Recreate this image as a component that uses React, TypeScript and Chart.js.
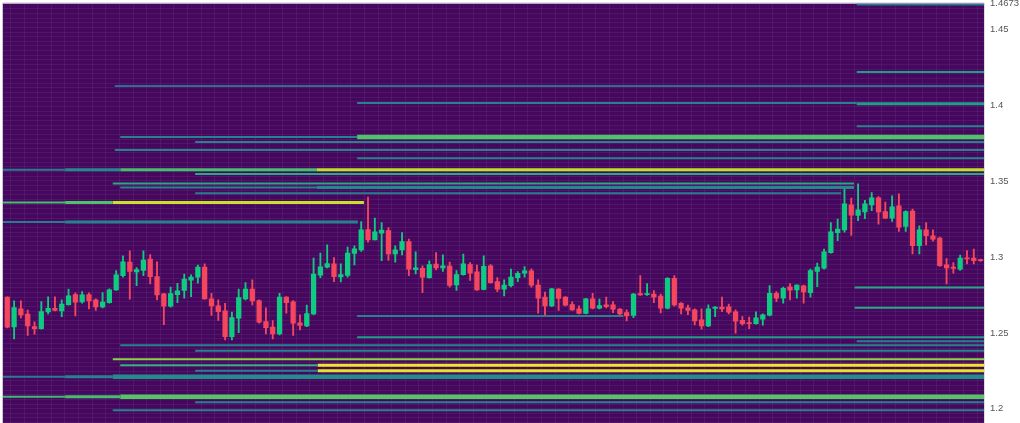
import { useEffect, useRef } from "react";
import { Chart, registerables } from "chart.js";

Chart.register(...registerables);

// ---- candle data (one entry per bar) ----
const opens = [
  1.2736, 1.2540, 1.2659, 1.2624, 1.2542, 1.2529, 1.2639, 1.2663, 1.2646, 1.2687,
  1.2753, 1.2705, 1.2753, 1.2718, 1.2672, 1.2700, 1.2784, 1.2877, 1.2967, 1.2903,
  1.2912, 1.2987, 1.2872, 1.2758, 1.2677, 1.2753, 1.2780, 1.2848, 1.2868, 1.2934,
  1.2725, 1.2679, 1.2646, 1.2476, 1.2597, 1.2725, 1.2789, 1.2714, 1.2575, 1.2538,
  1.2494, 1.2736, 1.2705, 1.2566, 1.2547, 1.2626, 1.2881, 1.2934, 1.2956, 1.2870,
  1.2879, 1.3024, 1.3048, 1.3182, 1.3114, 1.3158, 1.3176, 1.3022, 1.3048, 1.3103,
  1.2918, 1.2927, 1.2865, 1.2954, 1.2929, 1.2941, 1.2817, 1.2885, 1.2951, 1.2903,
  1.2787, 1.2943, 1.2839, 1.2789, 1.2811, 1.2865, 1.2894, 1.2910, 1.2815, 1.2736,
  1.2679, 1.2789, 1.2736, 1.2687, 1.2659, 1.2628, 1.2725, 1.2663, 1.2685, 1.2685,
  1.2657, 1.2634, 1.2615, 1.2760, 1.2753, 1.2756, 1.2743, 1.2663, 1.2861, 1.2696,
  1.2665, 1.2652, 1.2586, 1.2547, 1.2661, 1.2670, 1.2672, 1.2639, 1.2584, 1.2568,
  1.2562, 1.2591, 1.2617, 1.2762, 1.2729, 1.2804, 1.2784, 1.2811, 1.2766, 1.2905,
  1.2927, 1.3030, 1.3162, 1.3180, 1.3345, 1.3275, 1.3299, 1.3345, 1.3391, 1.3301,
  1.3257, 1.3339, 1.3202, 1.3304, 1.3075, 1.3180, 1.3141, 1.3125, 1.2949, 1.2934,
  1.2921, 1.2995, 1.2993, 1.2984,
];
const highs = [
  1.2738, 1.2712, 1.2712, 1.2650, 1.2573, 1.2707, 1.2738, 1.2738, 1.2718, 1.2789,
  1.2764, 1.2773, 1.2764, 1.2725, 1.2766, 1.2791, 1.2912, 1.3009, 1.3042, 1.2931,
  1.3042, 1.3017, 1.2969, 1.2762, 1.2802, 1.2828, 1.2888, 1.2883, 1.2947, 1.2956,
  1.2762, 1.2718, 1.2696, 1.2637, 1.2789, 1.2832, 1.2850, 1.2718, 1.2665, 1.2582,
  1.2762, 1.2740, 1.2714, 1.2619, 1.2683, 1.2993, 1.3026, 1.3081, 1.2997, 1.2956,
  1.3066, 1.3075, 1.3235, 1.3396, 1.3257, 1.3228, 1.3195, 1.3075, 1.3162, 1.3119,
  1.3035, 1.2943, 1.2976, 1.3030, 1.3015, 1.2967, 1.2912, 1.3020, 1.2964, 1.2947,
  1.3009, 1.2951, 1.2865, 1.2850, 1.2921, 1.2905, 1.2938, 1.2923, 1.2850, 1.2769,
  1.2795, 1.2793, 1.2740, 1.2705, 1.2679, 1.2729, 1.2762, 1.2723, 1.2736, 1.2707,
  1.2661, 1.2652, 1.2762, 1.2879, 1.2826, 1.2780, 1.2756, 1.2865, 1.2879, 1.2700,
  1.2683, 1.2659, 1.2659, 1.2685, 1.2674, 1.2736, 1.2690, 1.2652, 1.2608, 1.2604,
  1.2639, 1.2626, 1.2813, 1.2773, 1.2802, 1.2826, 1.2817, 1.2815, 1.2921, 1.2960,
  1.3053, 1.3228, 1.3251, 1.3449, 1.3389, 1.3484, 1.3374, 1.3426, 1.3400, 1.3363,
  1.3405, 1.3418, 1.3306, 1.3317, 1.3207, 1.3228, 1.3180, 1.3132, 1.2991, 1.2964,
  1.3013, 1.3044, 1.3053, 1.2987,
];
const lows = [
  1.2533, 1.2461, 1.2599, 1.2483, 1.2492, 1.2525, 1.2626, 1.2646, 1.2608, 1.2683,
  1.2613, 1.2696, 1.2659, 1.2648, 1.2665, 1.2696, 1.2780, 1.2868, 1.2723, 1.2811,
  1.2877, 1.2824, 1.2718, 1.2555, 1.2670, 1.2700, 1.2729, 1.2740, 1.2828, 1.2723,
  1.2615, 1.2582, 1.2454, 1.2454, 1.2502, 1.2718, 1.2685, 1.2564, 1.2494, 1.2461,
  1.2487, 1.2630, 1.2483, 1.2520, 1.2542, 1.2621, 1.2865, 1.2929, 1.2839, 1.2837,
  1.2868, 1.2949, 1.3037, 1.3099, 1.3114, 1.2976, 1.2978, 1.2967, 1.3015, 1.2877,
  1.2890, 1.2766, 1.2861, 1.2916, 1.2905, 1.2802, 1.2780, 1.2881, 1.2846, 1.2780,
  1.2784, 1.2828, 1.2773, 1.2745, 1.2804, 1.2839, 1.2868, 1.2802, 1.2630, 1.2619,
  1.2674, 1.2648, 1.2679, 1.2648, 1.2626, 1.2626, 1.2659, 1.2659, 1.2665, 1.2634,
  1.2619, 1.2580, 1.2601, 1.2747, 1.2747, 1.2700, 1.2632, 1.2659, 1.2677, 1.2626,
  1.2621, 1.2553, 1.2525, 1.2542, 1.2608, 1.2641, 1.2626, 1.2498, 1.2551, 1.2529,
  1.2558, 1.2551, 1.2613, 1.2707, 1.2696, 1.2718, 1.2729, 1.2696, 1.2736, 1.2806,
  1.2921, 1.3026, 1.3108, 1.3165, 1.3143, 1.3240, 1.3253, 1.3306, 1.3218, 1.3253,
  1.3235, 1.3169, 1.3169, 1.3022, 1.3022, 1.3081, 1.3106, 1.2938, 1.2824, 1.2894,
  1.2912, 1.2956, 1.2956, 1.2971,
];
const closes = [
  1.2538, 1.2667, 1.2619, 1.2547, 1.2529, 1.2641, 1.2663, 1.2648, 1.2690, 1.2745,
  1.2703, 1.2751, 1.2712, 1.2672, 1.2703, 1.2784, 1.2883, 1.2969, 1.2905, 1.2918,
  1.2980, 1.2872, 1.2751, 1.2677, 1.2760, 1.2778, 1.2855, 1.2868, 1.2934, 1.2725,
  1.2679, 1.2641, 1.2476, 1.2601, 1.2733, 1.2789, 1.2712, 1.2571, 1.2535, 1.2494,
  1.2736, 1.2700, 1.2564, 1.2549, 1.2628, 1.2888, 1.2936, 1.2958, 1.2872, 1.2885,
  1.3026, 1.3055, 1.3180, 1.3114, 1.3167, 1.3178, 1.3022, 1.3048, 1.3103, 1.2921,
  1.2929, 1.2868, 1.2951, 1.2929, 1.2943, 1.2813, 1.2885, 1.2956, 1.2894, 1.2784,
  1.2939, 1.2832, 1.2789, 1.2815, 1.2868, 1.2894, 1.2910, 1.2815, 1.2729, 1.2679,
  1.2791, 1.2727, 1.2683, 1.2652, 1.2628, 1.2725, 1.2663, 1.2681, 1.2674, 1.2657,
  1.2626, 1.2613, 1.2756, 1.2751, 1.2760, 1.2736, 1.2663, 1.2861, 1.2685, 1.2663,
  1.2648, 1.2580, 1.2547, 1.2659, 1.2670, 1.2659, 1.2637, 1.2578, 1.2562, 1.2562,
  1.2599, 1.2619, 1.2762, 1.2729, 1.2795, 1.2782, 1.2815, 1.2771, 1.2912, 1.2934,
  1.3035, 1.3167, 1.3185, 1.3352, 1.3277, 1.3312, 1.3352, 1.3391, 1.3299, 1.3257,
  1.3332, 1.3198, 1.3301, 1.3075, 1.3180, 1.3141, 1.3119, 1.2943, 1.2929, 1.2925,
  1.2993, 1.2989, 1.2976, 1.2976,
];

// ---- order-book liquidity levels (price, start bar, end bar, heat 0..1, depth class) ----
const levelPrice = [
  1.4666, 1.4221, 1.4129, 1.4016, 1.4012, 1.3864, 1.3792, 1.3792, 1.3759, 1.3706,
  1.3653, 1.3577, 1.3577, 1.3577, 1.3577, 1.3548, 1.3485, 1.3459, 1.3459, 1.3422,
  1.3360, 1.3360, 1.3360, 1.3231, 1.3231,
  1.2799, 1.2667, 1.2611, 1.2472, 1.2446, 1.2419, 1.2383, 1.2327, 1.2287, 1.2287,
  1.2251, 1.2251,
  1.2211, 1.2211, 1.2211, 1.2079, 1.2079, 1.2079, 1.2043, 1.1990,
];
const levelStart = [
  124.8, 124.8, 15.8, 51.4, 124.8, 124.8, 16.6, 51.4, 27.6, 15.8,
  51.4, -0.63, 8.5, 16.6, 45.5, 27.6, 15.5, 16.6, 45.5, 27.6,
  -0.63, 8.5, 15.5, -0.63, 8.5,
  124.5, 124.5, 51.4, 51.4, 124.8, 16.6, 27.6, 15.5, 16.6, 45.6,
  27.6, 45.6,
  -0.63, 8.5, 15.5, -0.63, 8.5, 16.6, 27.6, 15.5,
];
const levelEnd = [
  143.5, 143.5, 143.5, 124.8, 143.5, 143.5, 51.4, 143.5, 143.5, 143.5,
  143.5, 8.5, 16.6, 45.5, 143.5, 143.5, 124.4, 45.5, 124.4, 122.5,
  8.5, 15.5, 52.4, 8.5, 51.5,
  143.5, 143.5, 90.5, 143.5, 143.5, 143.5, 143.5, 143.5, 45.6, 143.5,
  45.6, 143.5,
  8.5, 15.5, 143.5, 8.5, 16.6, 143.5, 143.5, 143.5,
];
const levelHeat = [
  0.42, 0.55, 0.36, 0.45, 0.55, 0.45, 0.45, 0.72, 0.45, 0.45,
  0.45, 0.42, 0.47, 0.7, 0.9, 0.6, 0.6, 0.45, 0.47, 0.42,
  0.7, 0.72, 0.92, 0.42, 0.45,
  0.6, 0.6, 0.45, 0.55, 0.45, 0.45, 0.45, 0.82, 0.65, 0.98,
  0.45, 0.96,
  0.42, 0.45, 0.48, 0.68, 0.7, 0.73, 0.45, 0.45,
];
const levelDepth = [
  1, 1, 1, 1, 2, 1, 1, 3, 1, 1,
  1, 1, 2, 2, 2, 1, 1, 1, 2, 1,
  1, 2, 2, 1, 2,
  1, 1, 1, 1, 1, 1, 1, 1, 1, 2,
  1, 2,
  1, 2, 3, 1, 2, 3, 1, 1,
];

const yTicks = [1.2, 1.25, 1.3, 1.35, 1.4, 1.45, 1.4673];
const Y_MIN = 1.1906;
const Y_MAX = 1.4673;
const X_MIN = -0.63;
const X_MAX = 143.5;

const UP = "#0ecb81";
const DOWN = "#f6465d";

const VIRIDIS = [
  "#440154", "#482878", "#3e4a89", "#31688e", "#26828e",
  "#1f9e89", "#35b779", "#6ece58", "#b5de2b", "#fde725",
];
function hexToRgb(h: string) {
  return [parseInt(h.slice(1, 3), 16), parseInt(h.slice(3, 5), 16), parseInt(h.slice(5, 7), 16)];
}
function viridis(t: number) {
  const c = Math.max(0, Math.min(1, t)) * (VIRIDIS.length - 1);
  const i = Math.min(VIRIDIS.length - 2, Math.floor(c));
  const f = c - i;
  const a = hexToRgb(VIRIDIS[i]);
  const b = hexToRgb(VIRIDIS[i + 1]);
  const m = a.map((v, k) => Math.round(v + (b[k] - v) * f));
  return `rgb(${m[0]},${m[1]},${m[2]})`;
}
const depthWidth = (d: number) => (d === 1 ? 2 : d === 2 ? 3 : 4.5);

const backgroundPlugin = {
  id: "heatBackground",
  beforeDatasetsDraw(chart: any) {
    const { ctx, chartArea: a, scales } = chart;
    ctx.save();
    ctx.fillStyle = "#46085f";
    ctx.fillRect(a.left, a.top, a.right - a.left, a.bottom - a.top);
    ctx.strokeStyle = "rgba(255,255,255,0.055)";
    ctx.lineWidth = 1;
    ctx.beginPath();
    for (let v = 0.4; v < X_MAX; v += 2) {
      const px = Math.round(scales.x.getPixelForValue(v)) + 0.5;
      ctx.moveTo(px, a.top);
      ctx.lineTo(px, a.bottom);
    }
    for (let y = a.top + 4.8; y < a.bottom; y += 4.65) {
      const py = Math.round(y) + 0.5;
      ctx.moveTo(a.left, py);
      ctx.lineTo(a.right, py);
    }
    ctx.stroke();
    ctx.strokeStyle = "#cdc3d8";
    ctx.lineWidth = 1;
    ctx.beginPath();
    ctx.moveTo(a.left - 0.5, a.bottom);
    ctx.lineTo(a.left - 0.5, a.top - 0.5);
    ctx.lineTo(a.right, a.top - 0.5);
    ctx.stroke();
    ctx.restore();
  },
};

export default function App() {
  const ref = useRef<HTMLCanvasElement | null>(null);
  useEffect(() => {
    if (!ref.current) return;
    const idx = opens.map((_, i) => i);
    const colors = idx.map((i) => (closes[i] >= opens[i] ? UP : DOWN));
    const levelSets = levelPrice.map((p, k) => ({
      type: "line" as const,
      data: [
        { x: levelStart[k], y: p },
        { x: levelEnd[k], y: p },
      ],
      borderColor: viridis(levelHeat[k]),
      borderWidth: depthWidth(levelDepth[k]),
      borderCapStyle: "butt" as const,
      pointRadius: 0,
      tension: 0,
      order: 10,
    }));
    const chart = new Chart(ref.current, {
      type: "bar",
      data: {
        datasets: [
          ...levelSets,
          {
            type: "bar",
            data: idx.map((i) => ({ x: i, y: [lows[i], highs[i]] })),
            backgroundColor: colors,
            barThickness: 1.2,
            grouped: false,
            order: 2,
          } as any,
          {
            type: "bar",
            data: idx.map((i) => ({ x: i, y: [Math.min(opens[i], closes[i]), Math.max(opens[i], closes[i])] })),
            backgroundColor: colors,
            barThickness: 4.6,
            minBarLength: 1,
            grouped: false,
            order: 1,
          } as any,
        ],
      },
      options: {
        animation: false,
        responsive: false,
        events: [],
        layout: { padding: { left: 3, top: 3.5, right: 0, bottom: 0 } },
        plugins: { legend: { display: false }, tooltip: { enabled: false } },
        scales: {
          x: { type: "linear", min: X_MIN, max: X_MAX, display: false, offset: false },
          y: {
            type: "linear",
            position: "right",
            min: Y_MIN,
            max: Y_MAX,
            afterBuildTicks: (s: any) => {
              s.ticks = yTicks.map((v) => ({ value: v }));
            },
            afterFit: (s: any) => {
              s.width = 36;
              s.paddingTop = 0;
              s.paddingBottom = 0;
            },
            ticks: {
              callback: (v: any) => String(v),
              color: "#555",
              padding: 6,
              font: { family: "'Liberation Sans', Arial, sans-serif", size: 9.5 },
            },
            grid: { display: false, drawTicks: false },
            border: { display: true, color: "#dcdcdc" },
          },
        },
      } as any,
      plugins: [backgroundPlugin],
    });
    return () => chart.destroy();
  }, []);
  return (
    <div style={{ position: "fixed", left: 0, top: 0, width: 1020, height: 423, background: "#fff" }}>
      <canvas ref={ref} width={1020} height={423} />
    </div>
  );
}
